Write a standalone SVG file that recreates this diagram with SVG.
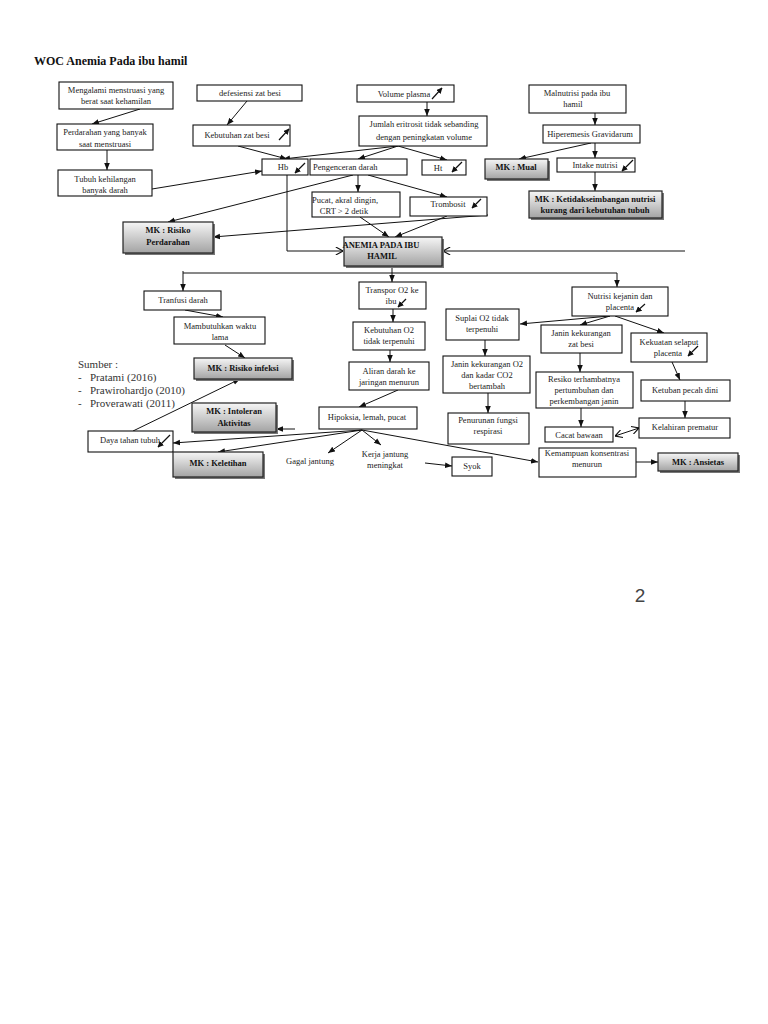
<svg xmlns="http://www.w3.org/2000/svg" width="768" height="1024" viewBox="0 0 768 1024">
<style>
.b{fill:#fff;stroke:#111;stroke-width:1.1}
.m{fill:url(#g);stroke:#222;stroke-width:1.2}
.sh{fill:#777}
text{font-family:"Liberation Serif","Times New Roman",serif;font-size:8.5px;fill:#222}
.c{text-anchor:middle}
.k{font-weight:bold;fill:#111}
.src{font-family:"Liberation Serif","Times New Roman",serif;font-size:11px;fill:#333}
.cn line,.cn path{stroke:#111;stroke-width:1;fill:none}
.ic line{stroke:#111;stroke-width:1.2}
</style>
<defs>
<marker id="a" viewBox="0 0 10 10" refX="10" refY="5" markerWidth="7" markerHeight="7" markerUnits="userSpaceOnUse" orient="auto-start-reverse"><path d="M0,1L10,5L0,9z" fill="#111"/></marker>
<marker id="o" viewBox="0 0 10 10" refX="10" refY="5" markerWidth="8" markerHeight="8" markerUnits="userSpaceOnUse" orient="auto-start-reverse"><path d="M1,0L10,5L1,10" fill="none" stroke="#111" stroke-width="1.4"/></marker>
<marker id="i" viewBox="0 0 10 10" refX="9" refY="5" markerWidth="6" markerHeight="6" markerUnits="userSpaceOnUse" orient="auto"><path d="M0,0L10,5L0,10z" fill="#111"/></marker>
<linearGradient id="g" x1="0" y1="0" x2="0" y2="1"><stop offset="0" stop-color="#f6f6f6"/><stop offset="1" stop-color="#a3a3a3"/></linearGradient>
</defs>
<rect width="768" height="1024" fill="#fff"/>
<text x="34" y="65" style="font-size:12px;font-weight:bold;fill:#111">WOC Anemia Pada ibu hamil</text>

<g class="cn">
<line x1="140" y1="109" x2="92" y2="124" marker-end="url(#a)"/>
<line x1="107" y1="150" x2="107" y2="170" marker-end="url(#a)"/>
<line x1="247" y1="101" x2="227" y2="125" marker-end="url(#a)"/>
<line x1="238" y1="146" x2="287" y2="159" marker-end="url(#a)"/>
<line x1="152" y1="189" x2="262" y2="171" marker-end="url(#a)"/>
<line x1="427" y1="102" x2="427" y2="116" marker-end="url(#a)"/>
<line x1="398" y1="146" x2="283" y2="159" marker-end="url(#a)"/>
<line x1="398" y1="146" x2="358" y2="159" marker-end="url(#a)"/>
<line x1="398" y1="146" x2="447" y2="160" marker-end="url(#a)"/>
<line x1="358" y1="175" x2="358" y2="192" marker-end="url(#a)"/>
<line x1="368" y1="175" x2="447" y2="197" marker-end="url(#a)"/>
<line x1="353" y1="175" x2="168" y2="222" marker-end="url(#a)"/>
<line x1="488" y1="215" x2="213" y2="237" marker-end="url(#a)"/>
<line x1="360" y1="217" x2="389" y2="237" marker-end="url(#a)"/>
<line x1="447" y1="216" x2="395" y2="237" marker-end="url(#a)"/>
<path d="M287,175V251H343" marker-end="url(#o)"/>
<line x1="685" y1="251" x2="443" y2="251" marker-end="url(#o)"/>
<line x1="595" y1="113" x2="595" y2="125" marker-end="url(#a)"/>
<line x1="591" y1="143" x2="519" y2="159" marker-end="url(#a)"/>
<line x1="595" y1="143" x2="595" y2="158" marker-end="url(#a)"/>
<line x1="595" y1="172" x2="595" y2="191" marker-end="url(#a)"/>
<line x1="392" y1="266" x2="392" y2="282" marker-end="url(#a)"/>
<line x1="183" y1="273" x2="617" y2="273"/>
<line x1="183" y1="271" x2="183" y2="291" marker-end="url(#a)"/>
<line x1="617" y1="273" x2="617" y2="287" marker-end="url(#a)"/>
<line x1="185" y1="310" x2="223" y2="317" marker-end="url(#a)"/>
<line x1="225" y1="345" x2="245" y2="358" marker-end="url(#a)"/>
<line x1="133" y1="431" x2="240" y2="379" marker-end="url(#a)"/>
<line x1="295" y1="429" x2="276" y2="429" marker-end="url(#a)"/>
<line x1="362" y1="430" x2="173" y2="443" marker-end="url(#a)"/>
<line x1="362" y1="430" x2="218" y2="452" marker-end="url(#a)"/>
<line x1="362" y1="430" x2="328" y2="453" marker-end="url(#a)"/>
<line x1="362" y1="430" x2="381" y2="445" marker-end="url(#a)"/>
<line x1="362" y1="430" x2="538" y2="462" marker-end="url(#a)"/>
<line x1="425" y1="463" x2="452" y2="466" marker-end="url(#a)"/>
<line x1="393" y1="309" x2="393" y2="322" marker-end="url(#a)"/>
<line x1="390" y1="350" x2="390" y2="362" marker-end="url(#a)"/>
<line x1="398" y1="390" x2="359" y2="407" marker-end="url(#a)"/>
<line x1="610" y1="316" x2="520" y2="324" marker-end="url(#a)"/>
<line x1="610" y1="316" x2="580" y2="325" marker-end="url(#a)"/>
<line x1="615" y1="316" x2="664" y2="333" marker-end="url(#a)"/>
<line x1="485" y1="340" x2="485" y2="356" marker-end="url(#a)"/>
<line x1="488" y1="393" x2="488" y2="413" marker-end="url(#a)"/>
<line x1="580" y1="353" x2="580" y2="372" marker-end="url(#a)"/>
<line x1="672" y1="362" x2="680" y2="380" marker-end="url(#a)"/>
<line x1="685" y1="401" x2="685" y2="418" marker-end="url(#a)"/>
<line x1="581" y1="408" x2="581" y2="427" marker-end="url(#a)"/>
<line x1="615" y1="436" x2="639" y2="428" marker-start="url(#o)" marker-end="url(#o)"/>
<line x1="636" y1="462" x2="658" y2="462" marker-end="url(#a)"/>
</g>

<g id="n1"><rect class="b" x="59" y="82" width="114" height="27"/><text class="c" x="116" y="93">Mengalami menstruasi yang</text><text class="c" x="116" y="104">berat saat kehamilan</text></g>
<g id="n2"><rect class="b" x="197" y="85" width="105" height="16"/><text class="c" x="250" y="96">defesiensi zat besi</text></g>
<g id="n3"><rect class="b" x="57" y="124" width="96" height="26"/><text class="c" x="105" y="135">Perdarahan yang banyak</text><text class="c" x="105" y="147">saat menstruasi</text></g>
<g id="n4"><rect class="b" x="193" y="125" width="97" height="21"/><text class="c" x="237" y="138">Kebutuhan zat besi</text></g>
<g id="n5"><rect class="b" x="58" y="170" width="94" height="26"/><text class="c" x="105" y="182">Tubuh kehilangan</text><text class="c" x="105" y="193">banyak darah</text></g>
<g id="n6"><rect class="b" x="262" y="159" width="46" height="16"/><text class="c" x="283" y="170">Hb</text></g>
<g id="n7"><rect class="b" x="310" y="159" width="97" height="16"/><text x="313" y="170">Pengenceran darah</text></g>
<g id="n8"><rect class="b" x="422" y="160" width="44" height="15"/><text class="c" x="438" y="171">Ht</text></g>
<g id="n9"><rect class="b" x="357" y="85" width="97" height="17"/><text class="c" x="404" y="97">Volume plasma</text></g>
<g id="n10"><rect class="b" x="359" y="116" width="128" height="30"/><text class="c" x="424" y="127">Jumlah eritrosit tidak sebanding</text><text class="c" x="424" y="140">dengan peningkatan volume</text></g>
<g id="n11"><rect class="b" x="312" y="192" width="88" height="25"/><text x="312" y="203">Pucat, akral dingin,</text><text class="c" x="344" y="214">CRT &gt; 2 detik</text></g>
<g id="n12"><rect class="b" x="410" y="197" width="77" height="19"/><text class="c" x="448" y="207">Trombosit</text></g>
<g id="n13"><rect class="sh" x="125" y="224" width="90" height="31"/><rect class="m" x="123" y="222" width="90" height="31"/><text class="c k" x="168" y="233">MK : Risiko</text><text class="c k" x="168" y="245">Perdarahan</text></g>
<g id="n14"><rect class="sh" x="346" y="239" width="98" height="29"/><rect class="m" x="344" y="237" width="98" height="29"/><text class="c k" x="381" y="248">ANEMIA PADA IBU</text><text class="c k" x="382" y="259">HAMIL</text></g>
<g id="n15"><rect class="b" x="529" y="85" width="97" height="28"/><text class="c" x="577" y="96">Malnutrisi pada ibu</text><text class="c" x="573" y="107">hamil</text></g>
<g id="n16"><rect class="b" x="543" y="125" width="97" height="18"/><text class="c" x="590" y="137">Hiperemesis Gravidarum</text></g>
<g id="n17"><rect class="sh" x="487" y="161" width="63" height="20"/><rect class="m" x="485" y="159" width="63" height="20"/><text class="c k" x="516" y="170">MK : Mual</text></g>
<g id="n18"><rect class="b" x="557" y="158" width="78" height="14"/><text class="c" x="595" y="168">Intake nutrisi</text></g>
<g id="n19"><rect class="sh" x="531" y="193" width="133" height="27"/><rect class="m" x="529" y="191" width="133" height="27"/><text class="c k" x="595" y="202">MK : Ketidakseimbangan nutrisi</text><text class="c k" x="595" y="213">kurang dari kebutuhan tubuh</text></g>
<g id="n20"><rect class="b" x="144" y="291" width="77" height="19"/><text class="c" x="183" y="303">Tranfusi darah</text></g>
<g id="n21"><rect class="b" x="174" y="317" width="91" height="27"/><text class="c" x="220" y="329">Mambutuhkan waktu</text><text class="c" x="220" y="340">lama</text></g>
<g id="n22"><rect class="sh" x="196" y="360" width="98" height="21"/><rect class="m" x="194" y="358" width="98" height="21"/><text class="c k" x="243" y="371">MK : Risiko infeksi</text></g>
<g id="n23"><rect class="sh" x="194" y="405" width="84" height="29"/><rect class="m" x="192" y="403" width="84" height="29"/><text class="c k" x="234" y="414">MK : Intoleran</text><text class="c k" x="234" y="426">Aktivitas</text></g>
<g id="n24"><rect class="b" x="88" y="431" width="85" height="21"/><text class="c" x="130" y="443">Daya tahan tubuh</text></g>
<g id="n25"><rect class="sh" x="175" y="454" width="90" height="25"/><rect class="m" x="173" y="452" width="90" height="25"/><text class="c k" x="218" y="466">MK : Keletihan</text></g>
<g id="n26"><rect class="b" x="359" y="282" width="67" height="27"/><text class="c" x="392" y="293">Transpor O2 ke</text><text class="c" x="391" y="304">ibu</text></g>
<g id="n27"><rect class="b" x="353" y="322" width="72" height="28"/><text class="c" x="389" y="333">Kebutuhan O2</text><text class="c" x="389" y="344">tidak terpenuhi</text></g>
<g id="n28"><rect class="b" x="349" y="362" width="80" height="28"/><text class="c" x="389" y="374">Aliran darah ke</text><text class="c" x="389" y="385">jaringan menurun</text></g>
<g id="n29"><rect class="b" x="319" y="407" width="98" height="22"/><text class="c" x="367" y="420">Hipoksia, lemah, pucat</text></g>
<g id="n30"><text class="c" x="310" y="464">Gagal jantung</text></g>
<g id="n31"><text class="c" x="385" y="457">Kerja jantung</text><text class="c" x="385" y="468">meningkat</text></g>
<g id="n32"><rect class="b" x="452" y="457" width="40" height="19"/><text class="c" x="472" y="469">Syok</text></g>
<g id="n33"><rect class="b" x="446" y="309" width="73" height="31"/><text class="c" x="482" y="321">Suplai O2 tidak</text><text class="c" x="482" y="332">terpenuhi</text></g>
<g id="n34"><rect class="b" x="443" y="356" width="87" height="37"/><text class="c" x="487" y="367">Janin kekurangan O2</text><text class="c" x="487" y="378">dan kadar CO2</text><text class="c" x="487" y="389">bertambah</text></g>
<g id="n35"><rect class="b" x="448" y="413" width="81" height="31"/><text class="c" x="488" y="423">Penurunan fungsi</text><text class="c" x="488" y="434">respirasi</text></g>
<g id="n36"><rect class="b" x="572" y="287" width="96" height="29"/><text class="c" x="620" y="299">Nutrisi kejanin dan</text><text class="c" x="620" y="310">placenta</text></g>
<g id="n37"><rect class="b" x="541" y="325" width="81" height="28"/><text class="c" x="581" y="336">Janin kekurangan</text><text class="c" x="581" y="347">zat besi</text></g>
<g id="n38"><rect class="b" x="631" y="333" width="76" height="29"/><text class="c" x="669" y="345">Kekuatan selaput</text><text class="c" x="668" y="356">placenta</text></g>
<g id="n39"><rect class="b" x="536" y="372" width="97" height="36"/><text class="c" x="584" y="382">Resiko terhambatnya</text><text class="c" x="584" y="393">pertumbuhan dan</text><text class="c" x="584" y="404">perkembangan janin</text></g>
<g id="n40"><rect class="b" x="641" y="380" width="89" height="21"/><text class="c" x="685" y="393">Ketuban pecah dini</text></g>
<g id="n41"><rect class="b" x="639" y="418" width="91" height="20"/><text class="c" x="685" y="430">Kelahiran prematur</text></g>
<g id="n42"><rect class="b" x="545" y="427" width="68" height="15"/><text class="c" x="579" y="438">Cacat bawaan</text></g>
<g id="n43"><rect class="b" x="539" y="448" width="97" height="29"/><text class="c" x="587" y="456">Kemampuan konsentrasi</text><text class="c" x="587" y="467">menurun</text></g>
<g id="n44"><rect class="sh" x="660" y="455" width="80" height="18"/><rect class="m" x="658" y="453" width="80" height="18"/><text class="c k" x="698" y="465">MK : Ansietas</text></g>

<g class="ic">
<line x1="432" y1="99" x2="442" y2="88" marker-end="url(#i)"/>
<line x1="279" y1="140" x2="289" y2="129" marker-end="url(#i)"/>
<line x1="305" y1="163" x2="295" y2="173" marker-end="url(#i)"/>
<line x1="462" y1="162" x2="452" y2="172" marker-end="url(#i)"/>
<line x1="481" y1="199" x2="472" y2="208" marker-end="url(#i)"/>
<line x1="633" y1="160" x2="622" y2="171" marker-end="url(#i)"/>
<line x1="406" y1="299" x2="398" y2="307" marker-end="url(#i)"/>
<line x1="645" y1="304" x2="636" y2="312" marker-end="url(#i)"/>
<line x1="698" y1="346" x2="688" y2="356" marker-end="url(#i)"/>
<line x1="170" y1="435" x2="158" y2="447" marker-end="url(#i)"/>
</g>

<g id="sumber">
<text class="src" x="78" y="368">Sumber :</text>
<text class="src" x="78" y="381">-</text><text class="src" x="90" y="381">Pratami (2016)</text>
<text class="src" x="78" y="394">-</text><text class="src" x="90" y="394">Prawirohardjo (2010)</text>
<text class="src" x="78" y="407">-</text><text class="src" x="90" y="407">Proverawati (2011)</text>
</g>
<text x="640" y="602" style="font-family:'Liberation Sans',Arial,sans-serif;font-size:19px;fill:#444;text-anchor:middle">2</text>
</svg>
